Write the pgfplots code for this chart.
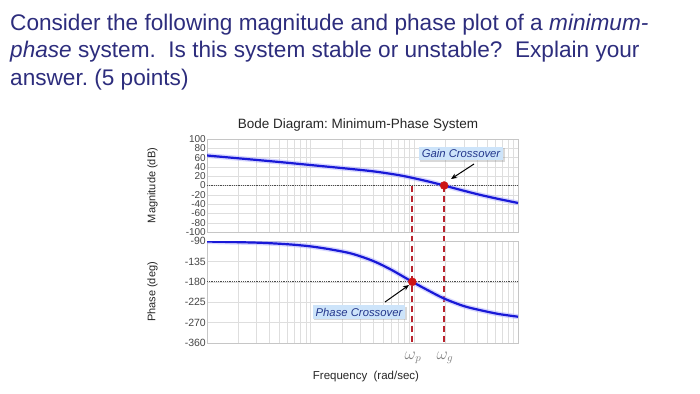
\documentclass[border=0pt]{standalone}
\usepackage{fontspec}
\setmainfont{Liberation Sans}
\usepackage{pgfplots}
\pgfplotsset{compat=1.18}
\usetikzlibrary{shadows,arrows.meta}
\definecolor{qtext}{RGB}{45,45,125}
\definecolor{curve}{RGB}{25,25,215}
\definecolor{dred}{RGB}{185,35,45}
\definecolor{dotred}{RGB}{205,20,20}
\definecolor{boxtext}{RGB}{35,55,140}
\definecolor{boxfill}{RGB}{205,228,250}
\definecolor{gridc}{RGB}{222,222,222}
\definecolor{tickc}{RGB}{70,70,70}
\frenchspacing
\begin{document}
\begin{tikzpicture}[x=1pt,y=1pt]
\path[use as bounding box, fill=white] (0,0) rectangle (700,-393);
\begin{scope}[every node/.style={anchor=base west, text=qtext, font=\fontsize{22.6}{26}\selectfont, inner sep=0}]
\node at (10,-31) {Consider the following magnitude and phase plot of a \textit{minimum-}};
\node at (10,-58) {\textit{phase} system.\ \ Is this system stable or unstable?\ \ Explain your};
\node at (10,-85) {answer. (5 points)};
\end{scope}
\node[font=\fontsize{13.5}{14}\selectfont, text=black!85] at (358,-125) {Bode Diagram: Minimum-Phase System};

\begin{axis}[scale only axis, width=311pt, xmode=log, xmin=1, xmax=1000,
  xtick={1,10,100,1000}, xticklabels={},
  grid=both, major grid style={gridc}, minor grid style={gridc},
  axis line style={gray!45}, tick style={draw=none},
  /pgf/number format/assume math mode=true,
  yticklabel style={font=\fontsize{10}{10}\selectfont, text=tickc, inner sep=1pt},
  at={(207pt,-139pt)}, anchor=north west, height=93pt,
  ymin=-100, ymax=100, ytick={-100,-80,...,100}, clip mode=individual,
  ylabel={Magnitude (dB)}, ylabel style={font=\fontsize{11}{11}\selectfont, text=black!85, at={(axis description cs:-0.175,0.5)}, anchor=center}]
\addplot[black!70, densely dotted, line width=0.8pt] coordinates {(1,0) (1000,0)};
\addplot[dred, line width=1.8pt, dash pattern=on 6pt off 4pt, forget plot, clip=false] coordinates {(95.6,0) (95.6,-338.7)};
\addplot[dred, line width=1.8pt, dash pattern=on 6pt off 4pt, forget plot, clip=false] coordinates {(194,0) (194,-338.7)};
\addplot[blue!35, line width=5pt, opacity=0.45, smooth] coordinates {(1,64.5) (2,58.5) (5,50.5) (10,44) (20,37.5) (40,30.5) (70,22.5) (100,15.5) (140,8) (194,0) (280,-9.5) (420,-19.5) (650,-29) (1000,-37.5)};
\addplot[curve, line width=2.2pt, smooth] coordinates {(1,64.5) (2,58.5) (5,50.5) (10,44) (20,37.5) (40,30.5) (70,22.5) (100,15.5) (140,8) (194,0) (280,-9.5) (420,-19.5) (650,-29) (1000,-37.5)};
\addplot[only marks, mark=*, mark size=4pt, dotred] coordinates {(194,0)};
\end{axis}

\begin{axis}[scale only axis, width=311pt, xmode=log, xmin=1, xmax=1000,
  xtick={1,10,100,1000}, xticklabels={},
  grid=both, major grid style={gridc}, minor grid style={gridc},
  axis line style={gray!45}, tick style={draw=none},
  yticklabel style={font=\fontsize{10.5}{10.5}\selectfont, text=tickc, inner sep=1pt},
  at={(207pt,-241pt)}, anchor=north west, height=102pt,
  ymin=-315, ymax=-90, ytick={-90,-135,-180,-225,-270,-315},
  yticklabels={-90,-135,-180,-225,-270,-360}, minor y tick num=0,
  ylabel={Phase (deg)}, ylabel style={font=\fontsize{11}{11}\selectfont, text=black!85, at={(axis description cs:-0.175,0.5)}, anchor=center}]
\addplot[black!70, densely dotted, line width=0.8pt] coordinates {(1,-180) (1000,-180)};
\addplot[blue!35, line width=5pt, opacity=0.45, smooth] coordinates {(1,-91.2) (3,-93.6) (6,-97.2) (10,-101.9) (16,-109) (25,-118) (40,-134) (60,-153.5) (95.6,-180) (140,-200.5) (194,-217) (300,-233.5) (441,-243) (650,-251) (1000,-257)};
\addplot[curve, line width=2.2pt, smooth] coordinates {(1,-91.2) (3,-93.6) (6,-97.2) (10,-101.9) (16,-109) (25,-118) (40,-134) (60,-153.5) (95.6,-180) (140,-200.5) (194,-217) (300,-233.5) (441,-243) (650,-251) (1000,-257)};
\addplot[only marks, mark=*, mark size=4pt, dotred] coordinates {(95.6,-180)};
\end{axis}

\node[font=\fontsize{16}{16}\selectfont, text=gray] at (413,-358) {$\omega_p$};
\node[font=\fontsize{16}{16}\selectfont, text=gray] at (445,-358) {$\omega_g$};
\node[font=\fontsize{11.5}{12}\selectfont, text=black!85] at (366,-377) {Frequency\ \ (rad/sec)};

\node[fill=boxfill, text=boxtext, font=\fontsize{11.3}{12}\selectfont\itshape, inner xsep=3pt, inner ysep=2.5pt, drop shadow={opacity=0.3, shadow xshift=1.5pt, shadow yshift=-1.5pt}] at (461,-153.5) {Gain Crossover};
\draw[black, line width=1pt, -{Stealth[length=6pt,width=5pt]}] (474,-164) -- (451,-179);
\node[fill=boxfill, text=boxtext, font=\fontsize{11.3}{12}\selectfont\itshape, inner xsep=3pt, inner ysep=2.5pt, drop shadow={opacity=0.3, shadow xshift=1.5pt, shadow yshift=-1.5pt}] at (359,-312) {Phase Crossover};
\draw[black, line width=1pt, -{Stealth[length=6pt,width=5pt]}] (385,-302) -- (409,-285);
\end{tikzpicture}
\end{document}
